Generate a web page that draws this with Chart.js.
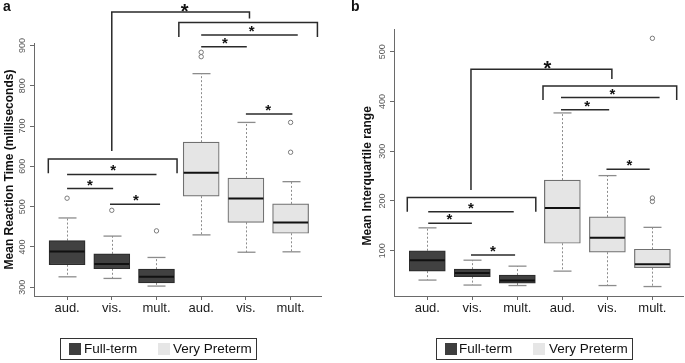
<!DOCTYPE html>
<html>
<head>
<meta charset="utf-8">
<script src="https://cdn.jsdelivr.net/npm/chart.js@4.4.1/dist/chart.umd.min.js"></script>
<style>
  html, body { margin: 0; padding: 0; background: #fff; }
  #wrap { position: relative; width: 685px; height: 363px; font-family: 'Liberation Sans', Arial, sans-serif; color: #111; }
  canvas { position: absolute; top: 0; }
  #cA { left: 0; }
  #cB { left: 342px; }
  .tag { position: absolute; top: -2px; font-weight: bold; font-size: 14px; }
  .legend { position: absolute; top: 338px; width: 195px; height: 20px; border: 1.5px solid #333; font-size: 13.5px; }
  .legend .sq { position: absolute; top: 4px; width: 12px; height: 12px; }
  .legend .lb { position: absolute; top: 1px; line-height: 18px; }
</style>
</head>
<body>
<div id="wrap">
  <canvas id="cA" width="342" height="363"></canvas>
  <canvas id="cB" width="343" height="363"></canvas>
  <div class="tag" style="left:3px">a</div>
  <div class="tag" style="left:351px">b</div>
  <div class="legend" style="left:60px">
    <div class="sq" style="left:8px;background:#3e3e3e"></div><div class="lb" style="left:23px">Full-term</div>
    <div class="sq" style="left:97px;background:#e6e6e6"></div><div class="lb" style="left:112px">Very Preterm</div>
  </div>
  <div class="legend" style="left:436px">
    <div class="sq" style="left:8px;background:#3e3e3e"></div><div class="lb" style="left:22px">Full-term</div>
    <div class="sq" style="left:96px;background:#e6e6e6"></div><div class="lb" style="left:112px">Very Preterm</div>
  </div>
</div>
<script>
'use strict';

// ── Dati ───────────────────────────────────────────────────────
const categories = ['aud.', 'vis.', 'mult.', 'aud.', 'vis.', 'mult.'];
const groups = ['Full-term', 'Very Preterm'];

// a: Mean Reaction Time (ms)
const rtMin      = [326, 322, 303, 430, 387, 388];
const rtQ1       = [356, 346, 311, 526, 461, 434];
const rtMedian   = [389, 358, 326, 584, 520, 461];
const rtQ3       = [416, 383, 345, 660, 571, 507];
const rtMax      = [472, 427, 374, 830, 709, 562];
const rtOutliers = [[521], [491], [440], [883, 872], [], [709, 635]];
const rtTicks    = [300, 400, 500, 600, 700, 800, 900];

// b: Mean Interquartile range
const iqrMin      = [41, 31, 30, 59, 30, 28];
const iqrQ1       = [59, 48, 35, 115, 97, 66];
const iqrMedian   = [81, 55, 40, 186, 126, 73];
const iqrQ3       = [100, 63, 51, 242, 168, 103];
const iqrMax      = [146, 81, 69, 377, 251, 147];
const iqrOutliers = [[], [], [], [], [], [206, 199, 527]];
const iqrTicks    = [100, 200, 300, 400, 500];

// confronti significativi: from/to in posizione categoria, at = valore y
const rtSig = [
  { from: 2, to: 5.08, at: 983, legL: 638, legR: 967, star: 3.63, big: true },
  { from: 3.5, to: 6.6, at: 957, legL: 921, legR: 921 },
  { from: 4, to: 6.16, at: 926, star: 5.13 },
  { from: 4, to: 5.02, at: 897, star: 4.53 },
  { from: 5, to: 6.04, at: 730, star: 5.5 },
  { from: 0.58, to: 3.46, at: 618, legL: 583, legR: 583 },
  { from: 1, to: 3.0, at: 580, star: 2.03 },
  { from: 1, to: 2.03, at: 545, star: 1.51 },
  { from: 1.96, to: 3.08, at: 506, star: 2.54 }
];
const iqrSig = [
  { from: 1.97, to: 5.1, at: 465, legL: 222, legR: 445, star: 3.67, big: true },
  { from: 3.57, to: 6.54, at: 431, legL: 403, legR: 403 },
  { from: 3.97, to: 6.16, at: 408, star: 5.11 },
  { from: 3.97, to: 5.04, at: 383.5, star: 4.55 },
  { from: 4.98, to: 5.94, at: 264, star: 5.49 },
  { from: 0.555, to: 3.41, at: 207, legL: 178.5, legR: 178.5 },
  { from: 1.02, to: 2.92, at: 178.5, star: 1.97 },
  { from: 1.02, to: 1.99, at: 155, star: 1.49 },
  { from: 1.97, to: 2.95, at: 91.5, star: 2.46 }
];

const FONT = "'Liberation Sans', Arial, sans-serif";

function seg(ctx, x1, y1, x2, y2) {
  ctx.beginPath(); ctx.moveTo(x1, y1); ctx.lineTo(x2, y2); ctx.stroke();
}

// whisker, mediane, outlier, parentesi
function boxPlugin(st, sig) {
  return {
    id: 'boxes',
    beforeDatasetsDraw(chart) {
      const { ctx, scales: { x, y } } = chart;
      ctx.save();
      for (let i = 0; i < st.median.length; i++) {
        const cx = Math.round(x.getPixelForValue(i + 1)) + 0.5;
        ctx.strokeStyle = '#8c8c8c'; ctx.lineWidth = 1;
        ctx.setLineDash([2, 2]);
        seg(ctx, cx, y.getPixelForValue(st.q3[i]), cx, y.getPixelForValue(st.max[i]));
        seg(ctx, cx, y.getPixelForValue(st.q1[i]), cx, y.getPixelForValue(st.min[i]));
        ctx.setLineDash([]);
        ctx.lineWidth = 1.3;
        seg(ctx, cx - 9, y.getPixelForValue(st.max[i]), cx + 9, y.getPixelForValue(st.max[i]));
        seg(ctx, cx - 9, y.getPixelForValue(st.min[i]), cx + 9, y.getPixelForValue(st.min[i]));
      }
      ctx.restore();
    },
    afterDatasetsDraw(chart) {
      const { ctx, scales: { x, y } } = chart;
      ctx.save();
      for (let i = 0; i < st.median.length; i++) {
        const cx = x.getPixelForValue(i + 1);
        ctx.strokeStyle = '#111'; ctx.lineWidth = 2;
        seg(ctx, cx - 17.5, y.getPixelForValue(st.median[i]), cx + 17.5, y.getPixelForValue(st.median[i]));
        ctx.strokeStyle = '#7a7a7a'; ctx.lineWidth = 1;
        st.outliers[i].forEach(v => {
          ctx.beginPath(); ctx.arc(cx, y.getPixelForValue(v), 2.2, 0, Math.PI * 2); ctx.stroke();
        });
      }
      ctx.restore();
    },
    afterDraw(chart) {
      const { ctx, scales: { x, y } } = chart;
      ctx.save();
      ctx.strokeStyle = '#2a2a2a'; ctx.lineWidth = 1.5;
      ctx.fillStyle = '#111'; ctx.textAlign = 'center'; ctx.textBaseline = 'alphabetic';
      sig.forEach(s => {
        const x1 = x.getPixelForValue(s.from), x2 = x.getPixelForValue(s.to);
        const yy = y.getPixelForValue(s.at);
        ctx.beginPath();
        if (s.legL !== undefined) {
          ctx.moveTo(x1, y.getPixelForValue(s.legL));
          ctx.lineTo(x1, yy); ctx.lineTo(x2, yy);
          ctx.lineTo(x2, y.getPixelForValue(s.legR));
        } else {
          ctx.moveTo(x1, yy); ctx.lineTo(x2, yy);
        }
        ctx.stroke();
        if (s.star !== undefined) {
          ctx.font = s.big ? 'bold 20px ' + FONT : 'bold 15px ' + FONT;
          ctx.fillText('*', x.getPixelForValue(s.star), yy + (s.big ? 6 : 1));
        }
      });
      ctx.restore();
    }
  };
}

function creaGrafico(id, st, sig, o) {
  const fill = ['#414141', '#e5e5e5'];
  const border = ['#2c2c2c', '#707070'];
  const idx = [[0, 1, 2], [3, 4, 5]];
  return new Chart(document.getElementById(id), {
    type: 'bar',
    data: {
      datasets: groups.map((g, k) => ({
        label: g,
        data: idx[k].map(i => ({ x: i + 1, y: [st.q1[i], st.q3[i]] })),
        backgroundColor: fill[k],
        borderColor: border[k],
        borderWidth: 1.2,
        borderSkipped: false,
        barThickness: 36,
        grouped: false
      }))
    },
    options: {
      responsive: false,
      animation: false,
      layout: { padding: { top: o.top, right: o.right, bottom: 0, left: 0 } },
      plugins: { legend: { display: false }, tooltip: { enabled: false } },
      scales: {
        x: {
          type: 'linear', min: 0.26, max: 6.68, offset: false,
          afterBuildTicks: s => { s.ticks = categories.map((c, i) => ({ value: i + 1 })); },
          afterFit: s => { s.height = 67; },
          ticks: { callback: v => categories[Math.round(v) - 1], color: '#1a1a1a', font: { family: FONT, size: 13 }, padding: 1, maxRotation: 0, autoSkip: false },
          grid: { drawOnChartArea: false, offset: false, tickLength: 4, color: '#6a6a6a' },
          border: { color: '#6a6a6a', width: 1 }
        },
        y: {
          type: 'linear', min: o.min, max: o.max,
          afterBuildTicks: s => { s.ticks = o.ticks.map(v => ({ value: v })); },
          afterFit: s => { s.width = o.left; },
          ticks: { color: '#5a5a5a', font: { family: FONT, size: 9 }, minRotation: 90, maxRotation: 90, crossAlign: 'center', padding: o.tickPad },
          grid: { drawOnChartArea: false, tickLength: 4, color: '#6a6a6a' },
          border: { color: '#6a6a6a', width: 1 },
          title: { display: true, text: o.title, color: '#111', font: { family: FONT, size: 12, weight: 'bold' }, padding: { top: o.titlePad, bottom: 0 } }
        }
      }
    },
    plugins: [boxPlugin(st, sig)]
  });
}

creaGrafico('cA',
  { min: rtMin, q1: rtQ1, median: rtMedian, q3: rtQ3, max: rtMax, outliers: rtOutliers },
  rtSig,
  { top: 43, right: 21, left: 34, min: 278.4, max: 906, ticks: rtTicks, tickPad: 0, title: 'Mean Reaction Time (milliseconds)', titlePad: 2 });

creaGrafico('cB',
  { min: iqrMin, q1: iqrQ1, median: iqrMedian, q3: iqrQ3, max: iqrMax, outliers: iqrOutliers },
  iqrSig,
  { top: 29, right: 2, left: 52, min: 9, max: 545.7, ticks: iqrTicks, tickPad: 0, title: 'Mean Interquartile range        ', titlePad: 18 });
</script>
</body>
</html>
